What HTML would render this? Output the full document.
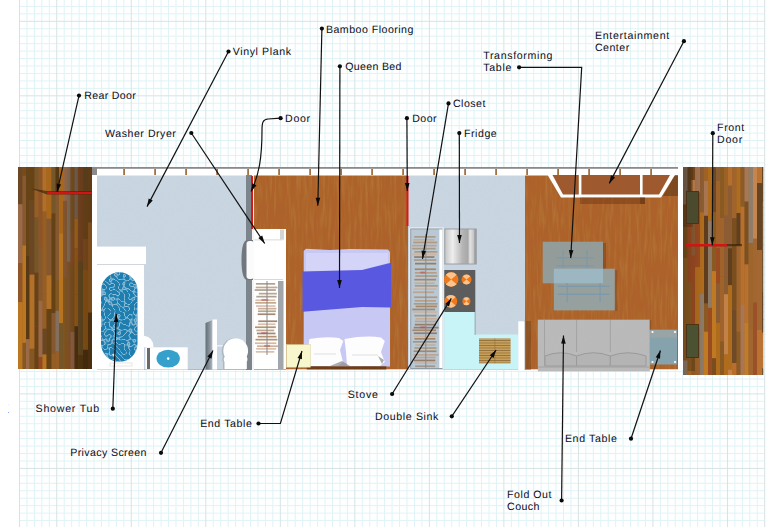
<!DOCTYPE html>
<html><head><meta charset="utf-8"><style>
html,body{margin:0;padding:0;background:#fff;width:779px;height:527px;overflow:hidden}
svg{display:block}
.mi{stroke:#dff3f6;stroke-width:1}
.ma{stroke:#d6e3e4;stroke-width:1}
.ld{stroke:#111;stroke-width:1.2;fill:none}
text{font-family:"Liberation Sans",sans-serif;font-size:10.6px;fill:#0c0c18;text-rendering:geometricPrecision}
</style></head><body>
<svg width="779" height="527" viewBox="0 0 779 527">
<defs>
<filter id="soft" x="0" y="0" width="1" height="1"><feGaussianBlur stdDeviation="0.45"/></filter>
<filter id="noise" x="0" y="0" width="1" height="1"><feTurbulence type="fractalNoise" baseFrequency="0.9" numOctaves="1" seed="3" result="t"/><feColorMatrix in="t" type="matrix" values="0 0 0 0 0.62  0 0 0 0 0.68  0 0 0 0 0.75  1.1 0 0 0 -0.35" result="n"/><feComposite in="n" in2="SourceGraphic" operator="atop"/></filter>
<filter id="noise2" x="0" y="0" width="1" height="1"><feTurbulence type="fractalNoise" baseFrequency="0.9" numOctaves="1" seed="5" result="t"/><feColorMatrix in="t" type="matrix" values="0 0 0 0 0.5  0 0 0 0 0.5  0 0 0 0 0.5  1.0 0 0 0 -0.3" result="n"/><feComposite in="n" in2="SourceGraphic" operator="atop"/></filter>
<filter id="caustic" x="0" y="0" width="1" height="1"><feTurbulence type="turbulence" baseFrequency="0.2" numOctaves="1" seed="9" result="t"/><feComponentTransfer in="t" result="m"><feFuncA type="table" tableValues="1 0.6 0 0 0 0 0 0 0 0 0 0 0 0 0 0"/></feComponentTransfer><feFlood flood-color="#ffffff" result="w"/><feComposite in="w" in2="m" operator="in" result="lines"/><feComposite in="lines" in2="SourceGraphic" operator="in"/></filter>
<linearGradient id="dkL" x1="0" x2="1" y1="0" y2="0"><stop offset="0" stop-color="#000" stop-opacity="0.03"/><stop offset="0.6" stop-color="#000" stop-opacity="0.05"/><stop offset="0.85" stop-color="#1a0c00" stop-opacity="0.35"/><stop offset="1" stop-color="#1a0c00" stop-opacity="0.4"/></linearGradient>
<linearGradient id="dkR" x1="0" x2="1" y1="0" y2="0"><stop offset="0" stop-color="#1a0c00" stop-opacity="0.2"/><stop offset="0.25" stop-color="#000" stop-opacity="0.0"/><stop offset="1" stop-color="#fff" stop-opacity="0.04"/></linearGradient>
<filter id="woodn" x="0" y="0" width="1" height="1"><feTurbulence type="fractalNoise" baseFrequency="0.35 0.035" numOctaves="2" seed="4" result="t"/><feColorMatrix in="t" type="matrix" values="0 0 0 0 0.5  0 0 0 0 0.25  0 0 0 0 0.06  0.9 0 0 0 -0.4" result="n"/><feComposite in="n" in2="SourceGraphic" operator="atop"/></filter>
<linearGradient id="psg" x1="0" x2="1" y1="0" y2="0"><stop offset="0" stop-color="#626c74"/><stop offset="0.6" stop-color="#8a949c"/><stop offset="1" stop-color="#b4bcc4"/></linearGradient>
<clipPath id="tubclip"><rect x="101" y="272.3" width="36.5" height="89.5" rx="18.25" ry="18.25"/></clipPath>
<pattern id="grain" width="5" height="60" patternUnits="userSpaceOnUse">
<rect x="0" width="1.2" height="60" fill="#a86226" opacity="0.35"/>
<rect x="2.6" width="1" height="60" fill="#bc7636" opacity="0.35"/>
</pattern>
<linearGradient id="metal" x1="0" x2="1" y1="0" y2="0">
<stop offset="0" stop-color="#c8c8c8"/><stop offset="0.25" stop-color="#eeeeee"/><stop offset="0.6" stop-color="#b4b4b4"/><stop offset="0.78" stop-color="#a8a8a8"/><stop offset="0.85" stop-color="#e4e4e4"/><stop offset="1" stop-color="#c0c0c0"/>
</linearGradient>
<pattern id="sinkp" width="32" height="2.5" patternUnits="userSpaceOnUse" y="338.4"><rect width="32" height="2.5" fill="#c8a05a"/><rect y="1.7" width="32" height="0.8" fill="#94703a"/></pattern>
</defs>
<rect width="779" height="527" fill="#fff"/>
<g><line x1="26.95" y1="0" x2="26.95" y2="527" class="mi"/>
<line x1="34.40" y1="0" x2="34.40" y2="527" class="mi"/>
<line x1="41.86" y1="0" x2="41.86" y2="527" class="mi"/>
<line x1="49.31" y1="0" x2="49.31" y2="527" class="mi"/>
<line x1="64.21" y1="0" x2="64.21" y2="527" class="mi"/>
<line x1="71.66" y1="0" x2="71.66" y2="527" class="mi"/>
<line x1="79.12" y1="0" x2="79.12" y2="527" class="mi"/>
<line x1="86.57" y1="0" x2="86.57" y2="527" class="mi"/>
<line x1="94.02" y1="0" x2="94.02" y2="527" class="mi"/>
<line x1="101.47" y1="0" x2="101.47" y2="527" class="mi"/>
<line x1="108.92" y1="0" x2="108.92" y2="527" class="mi"/>
<line x1="116.38" y1="0" x2="116.38" y2="527" class="mi"/>
<line x1="123.83" y1="0" x2="123.83" y2="527" class="mi"/>
<line x1="138.73" y1="0" x2="138.73" y2="527" class="mi"/>
<line x1="146.18" y1="0" x2="146.18" y2="527" class="mi"/>
<line x1="153.64" y1="0" x2="153.64" y2="527" class="mi"/>
<line x1="161.09" y1="0" x2="161.09" y2="527" class="mi"/>
<line x1="168.54" y1="0" x2="168.54" y2="527" class="mi"/>
<line x1="175.99" y1="0" x2="175.99" y2="527" class="mi"/>
<line x1="183.44" y1="0" x2="183.44" y2="527" class="mi"/>
<line x1="190.90" y1="0" x2="190.90" y2="527" class="mi"/>
<line x1="198.35" y1="0" x2="198.35" y2="527" class="mi"/>
<line x1="213.25" y1="0" x2="213.25" y2="527" class="mi"/>
<line x1="220.70" y1="0" x2="220.70" y2="527" class="mi"/>
<line x1="228.16" y1="0" x2="228.16" y2="527" class="mi"/>
<line x1="235.61" y1="0" x2="235.61" y2="527" class="mi"/>
<line x1="243.06" y1="0" x2="243.06" y2="527" class="mi"/>
<line x1="250.51" y1="0" x2="250.51" y2="527" class="mi"/>
<line x1="257.96" y1="0" x2="257.96" y2="527" class="mi"/>
<line x1="265.42" y1="0" x2="265.42" y2="527" class="mi"/>
<line x1="272.87" y1="0" x2="272.87" y2="527" class="mi"/>
<line x1="287.77" y1="0" x2="287.77" y2="527" class="mi"/>
<line x1="295.22" y1="0" x2="295.22" y2="527" class="mi"/>
<line x1="302.68" y1="0" x2="302.68" y2="527" class="mi"/>
<line x1="310.13" y1="0" x2="310.13" y2="527" class="mi"/>
<line x1="317.58" y1="0" x2="317.58" y2="527" class="mi"/>
<line x1="325.03" y1="0" x2="325.03" y2="527" class="mi"/>
<line x1="332.48" y1="0" x2="332.48" y2="527" class="mi"/>
<line x1="339.94" y1="0" x2="339.94" y2="527" class="mi"/>
<line x1="347.39" y1="0" x2="347.39" y2="527" class="mi"/>
<line x1="362.29" y1="0" x2="362.29" y2="527" class="mi"/>
<line x1="369.74" y1="0" x2="369.74" y2="527" class="mi"/>
<line x1="377.20" y1="0" x2="377.20" y2="527" class="mi"/>
<line x1="384.65" y1="0" x2="384.65" y2="527" class="mi"/>
<line x1="392.10" y1="0" x2="392.10" y2="527" class="mi"/>
<line x1="399.55" y1="0" x2="399.55" y2="527" class="mi"/>
<line x1="407.00" y1="0" x2="407.00" y2="527" class="mi"/>
<line x1="414.46" y1="0" x2="414.46" y2="527" class="mi"/>
<line x1="421.91" y1="0" x2="421.91" y2="527" class="mi"/>
<line x1="436.81" y1="0" x2="436.81" y2="527" class="mi"/>
<line x1="444.26" y1="0" x2="444.26" y2="527" class="mi"/>
<line x1="451.72" y1="0" x2="451.72" y2="527" class="mi"/>
<line x1="459.17" y1="0" x2="459.17" y2="527" class="mi"/>
<line x1="466.62" y1="0" x2="466.62" y2="527" class="mi"/>
<line x1="474.07" y1="0" x2="474.07" y2="527" class="mi"/>
<line x1="481.52" y1="0" x2="481.52" y2="527" class="mi"/>
<line x1="488.98" y1="0" x2="488.98" y2="527" class="mi"/>
<line x1="496.43" y1="0" x2="496.43" y2="527" class="mi"/>
<line x1="511.33" y1="0" x2="511.33" y2="527" class="mi"/>
<line x1="518.78" y1="0" x2="518.78" y2="527" class="mi"/>
<line x1="526.24" y1="0" x2="526.24" y2="527" class="mi"/>
<line x1="533.69" y1="0" x2="533.69" y2="527" class="mi"/>
<line x1="541.14" y1="0" x2="541.14" y2="527" class="mi"/>
<line x1="548.59" y1="0" x2="548.59" y2="527" class="mi"/>
<line x1="556.04" y1="0" x2="556.04" y2="527" class="mi"/>
<line x1="563.50" y1="0" x2="563.50" y2="527" class="mi"/>
<line x1="570.95" y1="0" x2="570.95" y2="527" class="mi"/>
<line x1="585.85" y1="0" x2="585.85" y2="527" class="mi"/>
<line x1="593.30" y1="0" x2="593.30" y2="527" class="mi"/>
<line x1="600.76" y1="0" x2="600.76" y2="527" class="mi"/>
<line x1="608.21" y1="0" x2="608.21" y2="527" class="mi"/>
<line x1="615.66" y1="0" x2="615.66" y2="527" class="mi"/>
<line x1="623.11" y1="0" x2="623.11" y2="527" class="mi"/>
<line x1="630.56" y1="0" x2="630.56" y2="527" class="mi"/>
<line x1="638.02" y1="0" x2="638.02" y2="527" class="mi"/>
<line x1="645.47" y1="0" x2="645.47" y2="527" class="mi"/>
<line x1="660.37" y1="0" x2="660.37" y2="527" class="mi"/>
<line x1="667.82" y1="0" x2="667.82" y2="527" class="mi"/>
<line x1="675.28" y1="0" x2="675.28" y2="527" class="mi"/>
<line x1="682.73" y1="0" x2="682.73" y2="527" class="mi"/>
<line x1="690.18" y1="0" x2="690.18" y2="527" class="mi"/>
<line x1="697.63" y1="0" x2="697.63" y2="527" class="mi"/>
<line x1="705.08" y1="0" x2="705.08" y2="527" class="mi"/>
<line x1="712.54" y1="0" x2="712.54" y2="527" class="mi"/>
<line x1="719.99" y1="0" x2="719.99" y2="527" class="mi"/>
<line x1="734.89" y1="0" x2="734.89" y2="527" class="mi"/>
<line x1="742.34" y1="0" x2="742.34" y2="527" class="mi"/>
<line x1="749.80" y1="0" x2="749.80" y2="527" class="mi"/>
<line x1="757.25" y1="0" x2="757.25" y2="527" class="mi"/>
<line x1="19.5" y1="6.40" x2="764.7" y2="6.40" class="mi"/>
<line x1="19.5" y1="13.85" x2="764.7" y2="13.85" class="mi"/>
<line x1="19.5" y1="28.75" x2="764.7" y2="28.75" class="mi"/>
<line x1="19.5" y1="36.20" x2="764.7" y2="36.20" class="mi"/>
<line x1="19.5" y1="43.66" x2="764.7" y2="43.66" class="mi"/>
<line x1="19.5" y1="51.11" x2="764.7" y2="51.11" class="mi"/>
<line x1="19.5" y1="58.56" x2="764.7" y2="58.56" class="mi"/>
<line x1="19.5" y1="66.01" x2="764.7" y2="66.01" class="mi"/>
<line x1="19.5" y1="73.46" x2="764.7" y2="73.46" class="mi"/>
<line x1="19.5" y1="80.92" x2="764.7" y2="80.92" class="mi"/>
<line x1="19.5" y1="88.37" x2="764.7" y2="88.37" class="mi"/>
<line x1="19.5" y1="103.27" x2="764.7" y2="103.27" class="mi"/>
<line x1="19.5" y1="110.72" x2="764.7" y2="110.72" class="mi"/>
<line x1="19.5" y1="118.18" x2="764.7" y2="118.18" class="mi"/>
<line x1="19.5" y1="125.63" x2="764.7" y2="125.63" class="mi"/>
<line x1="19.5" y1="133.08" x2="764.7" y2="133.08" class="mi"/>
<line x1="19.5" y1="140.53" x2="764.7" y2="140.53" class="mi"/>
<line x1="19.5" y1="147.98" x2="764.7" y2="147.98" class="mi"/>
<line x1="19.5" y1="155.44" x2="764.7" y2="155.44" class="mi"/>
<line x1="19.5" y1="162.89" x2="764.7" y2="162.89" class="mi"/>
<line x1="19.5" y1="177.79" x2="764.7" y2="177.79" class="mi"/>
<line x1="19.5" y1="185.24" x2="764.7" y2="185.24" class="mi"/>
<line x1="19.5" y1="192.70" x2="764.7" y2="192.70" class="mi"/>
<line x1="19.5" y1="200.15" x2="764.7" y2="200.15" class="mi"/>
<line x1="19.5" y1="207.60" x2="764.7" y2="207.60" class="mi"/>
<line x1="19.5" y1="215.05" x2="764.7" y2="215.05" class="mi"/>
<line x1="19.5" y1="222.50" x2="764.7" y2="222.50" class="mi"/>
<line x1="19.5" y1="229.96" x2="764.7" y2="229.96" class="mi"/>
<line x1="19.5" y1="237.41" x2="764.7" y2="237.41" class="mi"/>
<line x1="19.5" y1="252.31" x2="764.7" y2="252.31" class="mi"/>
<line x1="19.5" y1="259.76" x2="764.7" y2="259.76" class="mi"/>
<line x1="19.5" y1="267.22" x2="764.7" y2="267.22" class="mi"/>
<line x1="19.5" y1="274.67" x2="764.7" y2="274.67" class="mi"/>
<line x1="19.5" y1="282.12" x2="764.7" y2="282.12" class="mi"/>
<line x1="19.5" y1="289.57" x2="764.7" y2="289.57" class="mi"/>
<line x1="19.5" y1="297.02" x2="764.7" y2="297.02" class="mi"/>
<line x1="19.5" y1="304.48" x2="764.7" y2="304.48" class="mi"/>
<line x1="19.5" y1="311.93" x2="764.7" y2="311.93" class="mi"/>
<line x1="19.5" y1="326.83" x2="764.7" y2="326.83" class="mi"/>
<line x1="19.5" y1="334.28" x2="764.7" y2="334.28" class="mi"/>
<line x1="19.5" y1="341.74" x2="764.7" y2="341.74" class="mi"/>
<line x1="19.5" y1="349.19" x2="764.7" y2="349.19" class="mi"/>
<line x1="19.5" y1="356.64" x2="764.7" y2="356.64" class="mi"/>
<line x1="19.5" y1="364.09" x2="764.7" y2="364.09" class="mi"/>
<line x1="19.5" y1="371.54" x2="764.7" y2="371.54" class="mi"/>
<line x1="19.5" y1="379.00" x2="764.7" y2="379.00" class="mi"/>
<line x1="19.5" y1="386.45" x2="764.7" y2="386.45" class="mi"/>
<line x1="19.5" y1="401.35" x2="764.7" y2="401.35" class="mi"/>
<line x1="19.5" y1="408.80" x2="764.7" y2="408.80" class="mi"/>
<line x1="19.5" y1="416.26" x2="764.7" y2="416.26" class="mi"/>
<line x1="19.5" y1="423.71" x2="764.7" y2="423.71" class="mi"/>
<line x1="19.5" y1="431.16" x2="764.7" y2="431.16" class="mi"/>
<line x1="19.5" y1="438.61" x2="764.7" y2="438.61" class="mi"/>
<line x1="19.5" y1="446.06" x2="764.7" y2="446.06" class="mi"/>
<line x1="19.5" y1="453.52" x2="764.7" y2="453.52" class="mi"/>
<line x1="19.5" y1="460.97" x2="764.7" y2="460.97" class="mi"/>
<line x1="19.5" y1="475.87" x2="764.7" y2="475.87" class="mi"/>
<line x1="19.5" y1="483.32" x2="764.7" y2="483.32" class="mi"/>
<line x1="19.5" y1="490.78" x2="764.7" y2="490.78" class="mi"/>
<line x1="19.5" y1="498.23" x2="764.7" y2="498.23" class="mi"/>
<line x1="19.5" y1="505.68" x2="764.7" y2="505.68" class="mi"/>
<line x1="19.5" y1="513.13" x2="764.7" y2="513.13" class="mi"/>
<line x1="19.5" y1="520.58" x2="764.7" y2="520.58" class="mi"/>
<line x1="19.50" y1="0" x2="19.50" y2="527" class="ma"/>
<line x1="56.76" y1="0" x2="56.76" y2="527" class="ma"/>
<line x1="131.28" y1="0" x2="131.28" y2="527" class="ma"/>
<line x1="205.80" y1="0" x2="205.80" y2="527" class="ma"/>
<line x1="280.32" y1="0" x2="280.32" y2="527" class="ma"/>
<line x1="354.84" y1="0" x2="354.84" y2="527" class="ma"/>
<line x1="429.36" y1="0" x2="429.36" y2="527" class="ma"/>
<line x1="503.88" y1="0" x2="503.88" y2="527" class="ma"/>
<line x1="578.40" y1="0" x2="578.40" y2="527" class="ma"/>
<line x1="652.92" y1="0" x2="652.92" y2="527" class="ma"/>
<line x1="727.44" y1="0" x2="727.44" y2="527" class="ma"/>
<line x1="764.70" y1="0" x2="764.70" y2="527" class="ma"/>
<line x1="19.5" y1="21.30" x2="764.7" y2="21.30" class="ma"/>
<line x1="19.5" y1="95.82" x2="764.7" y2="95.82" class="ma"/>
<line x1="19.5" y1="170.34" x2="764.7" y2="170.34" class="ma"/>
<line x1="19.5" y1="244.86" x2="764.7" y2="244.86" class="ma"/>
<line x1="19.5" y1="319.38" x2="764.7" y2="319.38" class="ma"/>
<line x1="19.5" y1="393.90" x2="764.7" y2="393.90" class="ma"/>
<line x1="19.5" y1="468.42" x2="764.7" y2="468.42" class="ma"/></g>
<rect x="8" y="404" width="1" height="1" fill="#e4eeff"/><rect x="8" y="412" width="1" height="1" fill="#7eacf6"/>
<rect x="92" y="167" width="591" height="203" fill="#fff"/>
<g filter="url(#soft)"><rect x="18" y="167" width="74" height="202" fill="#8a5a2a"/><rect x="18.0" y="167.0" width="4.8" height="37.3" fill="#6e4a26"/>
<rect x="18.0" y="204.3" width="4.8" height="58.9" fill="#a06e4c"/>
<rect x="18.0" y="263.2" width="4.8" height="38.8" fill="#94582a"/>
<rect x="18.0" y="302.1" width="4.8" height="66.9" fill="#c07a24"/>
<rect x="22.5" y="167.0" width="3.8" height="8.8" fill="#7a4e1e"/>
<rect x="22.5" y="175.8" width="3.8" height="69.7" fill="#8c5c30"/>
<rect x="22.5" y="245.5" width="3.8" height="97.4" fill="#c07a24"/>
<rect x="22.5" y="342.9" width="3.8" height="26.1" fill="#8a5a22"/>
<rect x="26.0" y="167.0" width="3.8" height="88.8" fill="#6a4418"/>
<rect x="26.0" y="255.8" width="3.8" height="83.4" fill="#5a3a18"/>
<rect x="26.0" y="339.2" width="3.8" height="29.8" fill="#a06e4c"/>
<rect x="29.5" y="167.0" width="5.3" height="33.0" fill="#6a4418"/>
<rect x="29.5" y="200.0" width="5.3" height="74.7" fill="#6e4a26"/>
<rect x="29.5" y="274.7" width="5.3" height="74.1" fill="#b8742a"/>
<rect x="29.5" y="348.8" width="5.3" height="20.2" fill="#8a5a22"/>
<rect x="34.5" y="167.0" width="4.3" height="23.3" fill="#7a5a2a"/>
<rect x="34.5" y="190.3" width="4.3" height="27.2" fill="#9c6226"/>
<rect x="34.5" y="217.5" width="4.3" height="55.0" fill="#7a5a2a"/>
<rect x="34.5" y="272.6" width="4.3" height="54.0" fill="#6a4418"/>
<rect x="34.5" y="326.6" width="4.3" height="42.4" fill="#6a4418"/>
<rect x="38.5" y="167.0" width="4.3" height="80.7" fill="#94582a"/>
<rect x="38.5" y="247.7" width="4.3" height="53.2" fill="#8c5c30"/>
<rect x="38.5" y="300.8" width="4.3" height="56.5" fill="#a06e4c"/>
<rect x="38.5" y="357.3" width="4.3" height="11.7" fill="#9a4c22"/>
<rect x="42.5" y="167.0" width="4.3" height="44.7" fill="#b8742a"/>
<rect x="42.5" y="211.7" width="4.3" height="81.9" fill="#9c6226"/>
<rect x="42.5" y="293.6" width="4.3" height="35.1" fill="#9c6226"/>
<rect x="42.5" y="328.7" width="4.3" height="25.8" fill="#6e4a26"/>
<rect x="42.5" y="354.5" width="4.3" height="14.5" fill="#c07a24"/>
<rect x="46.5" y="167.0" width="5.3" height="51.9" fill="#b06c1c"/>
<rect x="46.5" y="218.9" width="5.3" height="56.4" fill="#8c5c30"/>
<rect x="46.5" y="275.3" width="5.3" height="33.7" fill="#b8742a"/>
<rect x="46.5" y="309.0" width="5.3" height="60.0" fill="#6a4418"/>
<rect x="51.5" y="167.0" width="4.3" height="46.3" fill="#7a5a2a"/>
<rect x="51.5" y="213.3" width="4.3" height="99.8" fill="#6a4418"/>
<rect x="51.5" y="313.1" width="4.3" height="40.8" fill="#8c5c30"/>
<rect x="51.5" y="353.9" width="4.3" height="15.1" fill="#9c6226"/>
<rect x="55.5" y="167.0" width="3.8" height="26.0" fill="#5a3a18"/>
<rect x="55.5" y="193.0" width="3.8" height="87.3" fill="#8c5c30"/>
<rect x="55.5" y="280.3" width="3.8" height="30.5" fill="#8a5a22"/>
<rect x="55.5" y="310.8" width="3.8" height="40.7" fill="#8a7462"/>
<rect x="55.5" y="351.4" width="3.8" height="17.6" fill="#a0642a"/>
<rect x="59.0" y="167.0" width="4.3" height="66.3" fill="#b06c1c"/>
<rect x="59.0" y="233.3" width="4.3" height="90.0" fill="#c07a24"/>
<rect x="59.0" y="323.2" width="4.3" height="45.8" fill="#7a5a2a"/>
<rect x="63.0" y="167.0" width="4.3" height="33.9" fill="#a06e4c"/>
<rect x="63.0" y="200.9" width="4.3" height="76.5" fill="#8c5c30"/>
<rect x="63.0" y="277.4" width="4.3" height="91.2" fill="#8a5a22"/>
<rect x="63.0" y="368.6" width="4.3" height="0.4" fill="#9c6226"/>
<rect x="67.0" y="167.0" width="3.8" height="94.9" fill="#8a7462"/>
<rect x="67.0" y="261.9" width="3.8" height="80.5" fill="#8c5c30"/>
<rect x="67.0" y="342.4" width="3.8" height="26.6" fill="#94582a"/>
<rect x="70.5" y="167.0" width="4.3" height="63.5" fill="#8a5a22"/>
<rect x="70.5" y="230.5" width="4.3" height="34.5" fill="#94582a"/>
<rect x="70.5" y="265.0" width="4.3" height="67.0" fill="#8a5a22"/>
<rect x="70.5" y="331.9" width="4.3" height="37.1" fill="#a06e4c"/>
<rect x="74.5" y="167.0" width="3.8" height="51.7" fill="#8a7462"/>
<rect x="74.5" y="218.7" width="3.8" height="29.5" fill="#c07a24"/>
<rect x="74.5" y="248.2" width="3.8" height="46.1" fill="#b06c1c"/>
<rect x="74.5" y="294.4" width="3.8" height="31.9" fill="#b06c1c"/>
<rect x="74.5" y="326.3" width="3.8" height="42.7" fill="#5a3a18"/>
<rect x="78.0" y="167.0" width="5.3" height="0.5" fill="#7a4e1e"/>
<rect x="78.0" y="167.5" width="5.3" height="94.3" fill="#94582a"/>
<rect x="78.0" y="261.7" width="5.3" height="93.3" fill="#7a5a2a"/>
<rect x="78.0" y="355.0" width="5.3" height="14.0" fill="#6a4418"/>
<rect x="83.0" y="167.0" width="5.3" height="23.0" fill="#7a5a2a"/>
<rect x="83.0" y="190.0" width="5.3" height="48.9" fill="#8a5a22"/>
<rect x="83.0" y="238.9" width="5.3" height="30.6" fill="#a0642a"/>
<rect x="83.0" y="269.6" width="5.3" height="80.3" fill="#b06c1c"/>
<rect x="83.0" y="349.8" width="5.3" height="19.2" fill="#5a3a18"/>
<rect x="88.0" y="167.0" width="4.3" height="55.4" fill="#8a5a22"/>
<rect x="88.0" y="222.4" width="4.3" height="90.3" fill="#b8742a"/>
<rect x="88.0" y="312.7" width="4.3" height="56.3" fill="#6a4418"/></g>
<g filter="url(#soft)"><rect x="683" y="167" width="80" height="208" fill="#8a5a2a"/><rect x="683.0" y="167.0" width="4.8" height="37.5" fill="#8e7a66"/>
<rect x="683.0" y="204.5" width="4.8" height="53.4" fill="#7a4e1e"/>
<rect x="683.0" y="257.9" width="4.8" height="70.7" fill="#8a5a22"/>
<rect x="683.0" y="328.6" width="4.8" height="31.8" fill="#8a5a22"/>
<rect x="683.0" y="360.4" width="4.8" height="14.6" fill="#8e7a66"/>
<rect x="687.5" y="167.0" width="4.3" height="56.8" fill="#6e4a26"/>
<rect x="687.5" y="223.8" width="4.3" height="59.3" fill="#9a4c22"/>
<rect x="687.5" y="283.2" width="4.3" height="87.9" fill="#8a5a22"/>
<rect x="687.5" y="371.0" width="4.3" height="4.0" fill="#b86e2a"/>
<rect x="691.5" y="167.0" width="3.8" height="13.0" fill="#7a4e1e"/>
<rect x="691.5" y="180.0" width="3.8" height="42.3" fill="#c4824a"/>
<rect x="691.5" y="222.2" width="3.8" height="33.5" fill="#8c5c30"/>
<rect x="691.5" y="255.7" width="3.8" height="71.1" fill="#9a4c22"/>
<rect x="691.5" y="326.8" width="3.8" height="44.2" fill="#7a4e1e"/>
<rect x="691.5" y="371.0" width="3.8" height="4.0" fill="#9c6226"/>
<rect x="695.0" y="167.0" width="5.3" height="25.6" fill="#a87452"/>
<rect x="695.0" y="192.6" width="5.3" height="74.5" fill="#9a4c22"/>
<rect x="695.0" y="267.1" width="5.3" height="62.4" fill="#b06c1c"/>
<rect x="695.0" y="329.4" width="5.3" height="45.6" fill="#a0642a"/>
<rect x="700.0" y="167.0" width="4.3" height="45.4" fill="#8c5c30"/>
<rect x="700.0" y="212.4" width="4.3" height="81.6" fill="#b06c1c"/>
<rect x="700.0" y="294.0" width="4.3" height="81.0" fill="#8e7a66"/>
<rect x="704.0" y="167.0" width="4.3" height="13.8" fill="#9c6226"/>
<rect x="704.0" y="180.8" width="4.3" height="35.1" fill="#a87452"/>
<rect x="704.0" y="215.8" width="4.3" height="87.8" fill="#5e3e1e"/>
<rect x="704.0" y="303.6" width="4.3" height="28.0" fill="#8a5a22"/>
<rect x="704.0" y="331.7" width="4.3" height="43.3" fill="#c07a24"/>
<rect x="708.0" y="167.0" width="4.3" height="53.6" fill="#b06c1c"/>
<rect x="708.0" y="220.6" width="4.3" height="87.3" fill="#8e7a66"/>
<rect x="708.0" y="307.9" width="4.3" height="67.1" fill="#9a4c22"/>
<rect x="712.0" y="167.0" width="4.3" height="45.2" fill="#6e4a26"/>
<rect x="712.0" y="212.2" width="4.3" height="58.9" fill="#8a5a22"/>
<rect x="712.0" y="271.1" width="4.3" height="87.2" fill="#c07a24"/>
<rect x="712.0" y="358.3" width="4.3" height="16.7" fill="#7a4e1e"/>
<rect x="716.0" y="167.0" width="4.3" height="13.9" fill="#8c5c30"/>
<rect x="716.0" y="180.9" width="4.3" height="67.3" fill="#a0642a"/>
<rect x="716.0" y="248.2" width="4.3" height="35.2" fill="#9a4c22"/>
<rect x="716.0" y="283.4" width="4.3" height="39.2" fill="#8c5c30"/>
<rect x="716.0" y="322.7" width="4.3" height="52.3" fill="#b06c1c"/>
<rect x="720.0" y="167.0" width="4.3" height="51.0" fill="#8a5a22"/>
<rect x="720.0" y="218.0" width="4.3" height="58.5" fill="#a0642a"/>
<rect x="720.0" y="276.5" width="4.3" height="65.2" fill="#a0642a"/>
<rect x="720.0" y="341.6" width="4.3" height="33.4" fill="#8a5a22"/>
<rect x="724.0" y="167.0" width="4.3" height="48.7" fill="#9c6226"/>
<rect x="724.0" y="215.7" width="4.3" height="78.6" fill="#8c5c30"/>
<rect x="724.0" y="294.2" width="4.3" height="60.4" fill="#c4824a"/>
<rect x="724.0" y="354.7" width="4.3" height="20.3" fill="#b06c1c"/>
<rect x="728.0" y="167.0" width="4.3" height="18.8" fill="#b86e2a"/>
<rect x="728.0" y="185.8" width="4.3" height="62.5" fill="#8c5c30"/>
<rect x="728.0" y="248.3" width="4.3" height="36.9" fill="#5e3e1e"/>
<rect x="728.0" y="285.2" width="4.3" height="84.4" fill="#b06c1c"/>
<rect x="728.0" y="369.6" width="4.3" height="5.4" fill="#c4824a"/>
<rect x="732.0" y="167.0" width="4.8" height="51.2" fill="#a0642a"/>
<rect x="732.0" y="218.2" width="4.8" height="91.5" fill="#7a4e1e"/>
<rect x="732.0" y="309.8" width="4.8" height="53.3" fill="#6e4a26"/>
<rect x="732.0" y="363.0" width="4.8" height="12.0" fill="#b86e2a"/>
<rect x="736.5" y="167.0" width="4.3" height="46.0" fill="#b06c1c"/>
<rect x="736.5" y="213.0" width="4.3" height="32.4" fill="#5e3e1e"/>
<rect x="736.5" y="245.4" width="4.3" height="86.4" fill="#a0642a"/>
<rect x="736.5" y="331.8" width="4.3" height="43.2" fill="#8a5a22"/>
<rect x="740.5" y="167.0" width="4.3" height="39.7" fill="#8a5a22"/>
<rect x="740.5" y="206.7" width="4.3" height="98.3" fill="#b86e2a"/>
<rect x="740.5" y="305.0" width="4.3" height="70.0" fill="#a87452"/>
<rect x="744.5" y="167.0" width="4.3" height="34.6" fill="#a87452"/>
<rect x="744.5" y="201.6" width="4.3" height="62.9" fill="#7a4e1e"/>
<rect x="744.5" y="264.4" width="4.3" height="58.1" fill="#b86e2a"/>
<rect x="744.5" y="322.5" width="4.3" height="52.5" fill="#c07a24"/>
<rect x="748.5" y="167.0" width="4.8" height="76.3" fill="#8e7a66"/>
<rect x="748.5" y="243.3" width="4.8" height="85.0" fill="#9c6226"/>
<rect x="748.5" y="328.2" width="4.8" height="46.8" fill="#a0642a"/>
<rect x="753.0" y="167.0" width="4.3" height="71.8" fill="#c4824a"/>
<rect x="753.0" y="238.8" width="4.3" height="63.9" fill="#a0642a"/>
<rect x="753.0" y="302.6" width="4.3" height="72.4" fill="#9a4c22"/>
<rect x="757.0" y="167.0" width="5.3" height="16.1" fill="#b86e2a"/>
<rect x="757.0" y="183.1" width="5.3" height="66.9" fill="#5e3e1e"/>
<rect x="757.0" y="250.0" width="5.3" height="79.7" fill="#a0642a"/>
<rect x="757.0" y="329.7" width="5.3" height="37.3" fill="#b86e2a"/>
<rect x="757.0" y="367.0" width="5.3" height="8.0" fill="#b86e2a"/>
<rect x="762.0" y="167.0" width="1.3" height="34.9" fill="#5e3e1e"/>
<rect x="762.0" y="201.9" width="1.3" height="90.3" fill="#6e4a26"/>
<rect x="762.0" y="292.1" width="1.3" height="40.6" fill="#5e3e1e"/>
<rect x="762.0" y="332.8" width="1.3" height="35.6" fill="#b86e2a"/>
<rect x="762.0" y="368.3" width="1.3" height="6.7" fill="#6e4a26"/></g>
<rect x="18" y="167" width="74" height="202" fill="url(#dkL)"/>
<rect x="683" y="167" width="80" height="208" fill="url(#dkR)"/>
<rect x="683" y="167" width="10" height="60" fill="#2a1808" opacity="0.25"/>
<rect x="92" y="167" width="587" height="1.8" fill="#8a8a8a"/>
<rect x="92" y="167" width="5" height="8" fill="#8a8a8a"/>
<rect x="123.2" y="169" width="1.8" height="6" fill="#a4703f"/>
<rect x="154.2" y="169" width="1.8" height="6" fill="#a4703f"/>
<rect x="185.2" y="169" width="1.8" height="6" fill="#a4703f"/>
<rect x="216.2" y="169" width="1.8" height="6" fill="#a4703f"/>
<rect x="247.2" y="169" width="1.8" height="6" fill="#a4703f"/>
<rect x="278.2" y="169" width="1.8" height="6" fill="#a4703f"/>
<rect x="309.2" y="169" width="1.8" height="6" fill="#a4703f"/>
<rect x="340.2" y="169" width="1.8" height="6" fill="#a4703f"/>
<rect x="371.2" y="169" width="1.8" height="6" fill="#a4703f"/>
<rect x="402.2" y="169" width="1.8" height="6" fill="#a4703f"/>
<rect x="433.2" y="169" width="1.8" height="6" fill="#a4703f"/>
<rect x="464.2" y="169" width="1.8" height="6" fill="#a4703f"/>
<rect x="495.2" y="169" width="1.8" height="6" fill="#a4703f"/>
<rect x="526.2" y="169" width="1.8" height="6" fill="#a4703f"/>
<rect x="557.2" y="169" width="1.8" height="6" fill="#a4703f"/>
<rect x="588.2" y="169" width="1.8" height="6" fill="#a4703f"/>
<rect x="619.2" y="169" width="1.8" height="6" fill="#a4703f"/>
<rect x="650.2" y="169" width="1.8" height="6" fill="#a4703f"/>
<rect x="97" y="175.5" width="149" height="194.5" fill="#c7d5e1" filter="url(#noise)"/>
<rect x="254" y="175.5" width="154" height="193.8" fill="#ac6229" filter="url(#woodn)"/>
<rect x="408" y="175.5" width="117" height="194.5" fill="#c7d5e1" filter="url(#noise)"/>
<rect x="525" y="175.5" width="153" height="193.8" fill="#ac6229" filter="url(#woodn)"/>
<rect x="97" y="369" width="149" height="1" fill="#a0a0a0" opacity="0.5"/>
<rect x="246" y="175" width="6" height="195" fill="#7c848c"/>
<rect x="252" y="175" width="2" height="195" fill="#f4f4f4"/>
<rect x="251" y="176" width="2" height="53" fill="#d81818"/>
<rect x="406.5" y="176" width="2" height="50" fill="#d81818"/>
<path d="M31,188.5 L47,191 L92,191 L92,194.5 L47,194.5 Z" fill="#2a1a0a" opacity="0.6"/>
<rect x="47" y="191.8" width="45" height="2.4" fill="#d41414"/>
<rect x="686" y="244" width="56" height="2.2" fill="#2a1a0a" opacity="0.6"/>
<rect x="686" y="244" width="41" height="2.4" fill="#d41414"/>
<rect x="686.5" y="191.5" width="12" height="32" fill="#4c4a2e" stroke="#4a3014" stroke-width="0.9"/>
<rect x="686.5" y="324.5" width="12" height="33" fill="#4a5232" stroke="#4a3014" stroke-width="0.9"/>
<rect x="678" y="167" width="5" height="203" fill="#fff"/>
<rect x="92" y="175" width="5" height="195" fill="#fff"/>
<rect x="97" y="246.6" width="49" height="18" fill="#fff"/>
<rect x="97" y="264" width="49" height="0.8" fill="#c8d0d8"/>
<rect x="97" y="265" width="47" height="104.5" fill="#fff"/>
<rect x="101" y="272.3" width="36.5" height="89.5" rx="18.25" ry="18.25" fill="#1e7eb0"/>
<rect x="101" y="272.3" width="36.5" height="89.5" rx="18.25" ry="18.25" fill="#fff" filter="url(#caustic)" opacity="0.5"/>
<circle cx="114" cy="355" r="1.6" fill="#e8e0d8"/>
<rect x="110" y="363" width="22" height="3" fill="#fff" stroke="#ccc" stroke-width="0.5"/>
<path d="M144,335.7 Q153.5,337 153.5,347.3 L144,347.3 Z" fill="#fff"/>
<rect x="145.4" y="347.3" width="42.3" height="22.2" fill="#fff"/>
<rect x="147" y="348" width="3" height="21" fill="#6a6a6a"/>
<ellipse cx="168.2" cy="358.6" rx="11.7" ry="8.9" fill="#36a0cc"/>
<circle cx="168.2" cy="358.6" r="1.3" fill="#fff"/>
<path d="M205.5,323 L212.5,320 L212.5,369.5 L205.5,369.5 Z" fill="url(#psg)"/>
<rect x="212.5" y="319.5" width="4.5" height="50" fill="#fff"/>
<rect x="217" y="345.2" width="6" height="1.2" fill="#f4f6f8"/>
<circle cx="234.5" cy="351" r="12.8" fill="#9aa4ac" opacity="0.6"/>
<path d="M223,369 L223,362 Q221,358 224,356 L246,356 Q248,358 246.5,362 L246.5,369 Z" fill="#9aa4ac" opacity="0.6"/>
<circle cx="235.7" cy="350.7" r="12.4" fill="#fff"/>
<path d="M224.5,369 L224.5,362 Q222.5,358 225.5,356 L246,356 Q248.5,358 246.8,362 L246.8,369 Z" fill="#fff"/>
<rect x="254" y="229" width="32" height="140.3" fill="#fff"/>
<rect x="280" y="229.5" width="4" height="10" fill="#d4d4d4"/>
<rect x="254" y="239.5" width="29" height="0.8" fill="#cfcfcf"/>
<path d="M253,240 L247,240 Q241.5,241 241.5,260 Q241.5,279 247,280 L253,280 Z" fill="#70777d"/>
<rect x="246.5" y="241" width="7.5" height="38" fill="#fbfbfb" rx="3"/>
<rect x="254" y="279" width="29" height="0.8" fill="#cfcfcf"/>
<rect x="255.9" y="283.0" width="19.3" height="1.7" fill="#9a8a7a" opacity="0.8"/>
<rect x="255.7" y="286.6" width="21.8" height="1.7" fill="#b89470" opacity="0.8"/>
<rect x="254.7" y="289.2" width="21.2" height="1.7" fill="#9a8a7a" opacity="0.8"/>
<rect x="258.8" y="292.8" width="18.0" height="1.7" fill="#a89070" opacity="0.8"/>
<rect x="256.3" y="295.8" width="20.3" height="1.7" fill="#9a8a7a" opacity="0.8"/>
<rect x="255.4" y="299.4" width="19.9" height="1.7" fill="#d0b098" opacity="0.8"/>
<rect x="261.5" y="298.9" width="6.8" height="2" fill="#c04848" opacity="0.55"/>
<rect x="255.2" y="302.0" width="20.9" height="1.7" fill="#b89470" opacity="0.8"/>
<rect x="256.0" y="305.2" width="19.5" height="1.7" fill="#d0b098" opacity="0.8"/>
<rect x="257.9" y="307.8" width="18.5" height="1.7" fill="#c09a80" opacity="0.8"/>
<rect x="258.0" y="310.4" width="17.9" height="1.7" fill="#a89070" opacity="0.8"/>
<rect x="257.7" y="313.4" width="17.7" height="1.7" fill="#8a6a50" opacity="0.8"/>
<rect x="258.3" y="320.4" width="18.9" height="1.7" fill="#8a6a50" opacity="0.8"/>
<rect x="258.0" y="323.4" width="17.5" height="1.7" fill="#d0b098" opacity="0.8"/>
<rect x="255.0" y="326.4" width="20.8" height="1.7" fill="#a07850" opacity="0.8"/>
<rect x="256.4" y="329.6" width="17.8" height="1.7" fill="#a89070" opacity="0.8"/>
<rect x="256.9" y="332.6" width="18.6" height="1.7" fill="#8a6a50" opacity="0.8"/>
<rect x="261.3" y="332.1" width="6.7" height="2" fill="#c04848" opacity="0.55"/>
<rect x="257.7" y="335.8" width="18.8" height="1.7" fill="#a07850" opacity="0.8"/>
<rect x="255.5" y="338.8" width="21.9" height="1.7" fill="#a07850" opacity="0.8"/>
<rect x="254.9" y="342.4" width="21.4" height="1.7" fill="#c8a888" opacity="0.8"/>
<rect x="257.0" y="345.4" width="21.5" height="1.7" fill="#c09a80" opacity="0.8"/>
<rect x="264.3" y="344.9" width="5.8" height="2" fill="#c04848" opacity="0.55"/>
<rect x="256.2" y="348.0" width="19.9" height="1.7" fill="#d0b098" opacity="0.8"/>
<rect x="255.8" y="351.0" width="18.5" height="1.7" fill="#d0b098" opacity="0.8"/>
<rect x="266.5" y="281" width="1" height="74" fill="#8a8a8a"/>
<rect x="278" y="281" width="5.5" height="88" fill="#a0a6aa"/>
<rect x="254" y="369" width="32" height="1" fill="#b0b0b0"/>
<path d="M303.7,251 L306,248.8 L330,250 L350,249 L388,249.5 L390,252 L390,366.5 L303.7,366.5 Z" fill="#c8c8f4"/>
<path d="M306,253 L388,253 L388,262.7 L362,270 L306,271 Z" fill="#d4d4f8"/>
<path d="M302.5,271.4 L362,270 L391,262.7 L391,307.4 L362,307 L302.5,311.7 Z" fill="#5858e0"/>
<rect x="306.8" y="366.3" width="79.5" height="3.2" fill="#5a3010" opacity="0.75"/>
<path d="M309.3,339 Q326,336 339,338 L343.3,341 L340,350 L343,362 L338,365.9 L309.3,365.9 L308,352 Z" fill="#fdfdfd"/>
<path d="M344.5,339 Q366,335 381,337.5 L384.8,341 L381,352 L384.8,362 L380,365.9 L347,365.9 L346,352 Z" fill="#fdfdfd"/>
<path d="M330,366 L342,361 L350,366 Z M378,356 L384,360 L382,364 Z" fill="#8a8a8a" opacity="0.7"/>
<path d="M314,354 L336,354 M352,355 L378,355" stroke="#d0d0d0" stroke-width="0.7"/>
<rect x="286.4" y="344.6" width="24" height="22.6" fill="#f8f6cc" stroke="#d8d0a0" stroke-width="0.5"/>
<rect x="409.5" y="227.6" width="34" height="141.6" fill="#fff"/>
<rect x="410.2" y="228.4" width="32.4" height="140.6" fill="#8e9aa4"/>
<rect x="411.2" y="229.4" width="28" height="138.6" fill="#b8c8d4"/>
<rect x="439.2" y="229.4" width="3.4" height="138.6" fill="#fff"/>
<rect x="414.2" y="236.0" width="21.3" height="1.7" fill="#a89070" opacity="0.8"/>
<rect x="413.3" y="239.0" width="21.0" height="1.7" fill="#c8a888" opacity="0.8"/>
<rect x="413.2" y="241.6" width="24.0" height="1.7" fill="#a89070" opacity="0.8"/>
<rect x="412.1" y="244.8" width="24.4" height="1.7" fill="#c09a80" opacity="0.8"/>
<rect x="412.2" y="247.8" width="23.4" height="1.7" fill="#a89070" opacity="0.8"/>
<rect x="414.3" y="251.0" width="23.0" height="1.7" fill="#a89070" opacity="0.8"/>
<rect x="412.2" y="253.6" width="24.5" height="1.7" fill="#d0b098" opacity="0.8"/>
<rect x="414.2" y="256.2" width="20.2" height="1.7" fill="#8a6a50" opacity="0.8"/>
<rect x="414.0" y="259.2" width="22.3" height="1.7" fill="#a89070" opacity="0.8"/>
<rect x="415.0" y="262.8" width="21.2" height="1.7" fill="#8a6a50" opacity="0.8"/>
<rect x="414.7" y="268.4" width="21.3" height="1.7" fill="#a07850" opacity="0.8"/>
<rect x="414.9" y="272.0" width="21.8" height="1.7" fill="#b89470" opacity="0.8"/>
<rect x="420.3" y="271.5" width="5.1" height="2" fill="#c04848" opacity="0.55"/>
<rect x="415.3" y="275.2" width="22.2" height="1.7" fill="#a89070" opacity="0.8"/>
<rect x="414.3" y="278.8" width="21.7" height="1.7" fill="#a07850" opacity="0.8"/>
<rect x="414.6" y="282.4" width="20.1" height="1.7" fill="#c8a888" opacity="0.8"/>
<rect x="414.9" y="285.0" width="22.9" height="1.7" fill="#a89070" opacity="0.8"/>
<rect x="413.8" y="288.2" width="22.6" height="1.7" fill="#d0b098" opacity="0.8"/>
<rect x="413.0" y="291.4" width="21.1" height="1.7" fill="#c09a80" opacity="0.8"/>
<rect x="414.2" y="296.4" width="23.1" height="1.7" fill="#a89070" opacity="0.8"/>
<rect x="414.6" y="300.0" width="21.4" height="1.7" fill="#b89470" opacity="0.8"/>
<rect x="413.8" y="303.0" width="23.7" height="1.7" fill="#a89070" opacity="0.8"/>
<rect x="415.6" y="305.6" width="21.4" height="1.7" fill="#a07850" opacity="0.8"/>
<rect x="412.2" y="308.6" width="22.9" height="1.7" fill="#a07850" opacity="0.8"/>
<rect x="412.9" y="311.2" width="24.4" height="1.7" fill="#d0b098" opacity="0.8"/>
<rect x="414.4" y="314.8" width="21.8" height="1.7" fill="#9a8a7a" opacity="0.8"/>
<rect x="415.7" y="318.0" width="21.3" height="1.7" fill="#c8a888" opacity="0.8"/>
<rect x="414.9" y="320.6" width="21.9" height="1.7" fill="#c09a80" opacity="0.8"/>
<rect x="414.8" y="323.8" width="21.2" height="1.7" fill="#8a6a50" opacity="0.8"/>
<rect x="413.7" y="326.8" width="24.8" height="1.7" fill="#8a6a50" opacity="0.8"/>
<rect x="420.4" y="326.3" width="5.7" height="2" fill="#c04848" opacity="0.55"/>
<rect x="412.4" y="329.4" width="23.6" height="1.7" fill="#a07850" opacity="0.8"/>
<rect x="413.8" y="332.4" width="23.1" height="1.7" fill="#8a6a50" opacity="0.8"/>
<rect x="413.9" y="335.4" width="21.3" height="1.7" fill="#d0b098" opacity="0.8"/>
<rect x="414.4" y="338.0" width="20.9" height="1.7" fill="#a07850" opacity="0.8"/>
<rect x="412.9" y="341.0" width="23.7" height="1.7" fill="#9a8a7a" opacity="0.8"/>
<rect x="415.4" y="344.2" width="20.1" height="1.7" fill="#c8a888" opacity="0.8"/>
<rect x="414.4" y="347.2" width="22.1" height="1.7" fill="#a89070" opacity="0.8"/>
<rect x="413.7" y="350.4" width="22.8" height="1.7" fill="#a07850" opacity="0.8"/>
<rect x="413.5" y="354.0" width="25.0" height="1.7" fill="#c09a80" opacity="0.8"/>
<rect x="414.4" y="356.6" width="21.2" height="1.7" fill="#c09a80" opacity="0.8"/>
<rect x="413.9" y="359.6" width="21.4" height="1.7" fill="#8a6a50" opacity="0.8"/>
<rect x="414.6" y="362.2" width="22.2" height="1.7" fill="#d0b098" opacity="0.8"/>
<rect x="415.1" y="365.4" width="20.0" height="1.7" fill="#9a8a7a" opacity="0.8"/>
<rect x="425.3" y="234" width="1" height="134" fill="#8a8a8a"/>
<rect x="444.3" y="228.5" width="32.5" height="36" fill="#9a9ea2"/>
<rect x="445.3" y="229.5" width="29" height="34" fill="url(#metal)"/>
<rect x="444.3" y="270" width="31" height="42" fill="#5c5c5c"/>
<circle cx="451.2" cy="279.5" r="7.2" fill="#f07818"/><path d="M451.2,279.5 L445.80,274.75 A7.2,7.2 0 0 1 456.60,274.75 Z" fill="#fcc48c"/><path d="M451.2,279.5 L445.80,284.25 A7.2,7.2 0 0 0 456.60,284.25 Z" fill="#fcc48c"/>
<circle cx="466.5" cy="279.5" r="5" fill="#f07818"/><path d="M466.5,279.5 L462.75,276.20 A5,5 0 0 1 470.25,276.20 Z" fill="#fcc48c"/><path d="M466.5,279.5 L462.75,282.80 A5,5 0 0 0 470.25,282.80 Z" fill="#fcc48c"/>
<circle cx="450.8" cy="301.3" r="6.4" fill="#f07818"/><path d="M450.8,301.3 L446.00,297.08 A6.4,6.4 0 0 1 455.60,297.08 Z" fill="#fcc48c"/><path d="M450.8,301.3 L446.00,305.52 A6.4,6.4 0 0 0 455.60,305.52 Z" fill="#fcc48c"/>
<circle cx="466.4" cy="301.3" r="4" fill="#f07818"/><path d="M466.4,301.3 L463.40,298.66 A4,4 0 0 1 469.40,298.66 Z" fill="#fcc48c"/><path d="M466.4,301.3 L463.40,303.94 A4,4 0 0 0 469.40,303.94 Z" fill="#fcc48c"/>
<path d="M444.3,312 L475,312 L475,334.6 L518.3,334.6 L518.3,369 L444.3,369 Z" fill="#c8f4f8"/>
<rect x="479" y="338.4" width="31.6" height="25" fill="url(#sinkp)"/>
<rect x="494.5" y="338.4" width="0.8" height="25" fill="#8a6a30" opacity="0.6"/>
<rect x="525" y="321" width="6" height="49" fill="#5a3010" opacity="0.35"/>
<rect x="474.6" y="312" width="1" height="23" fill="#8a9aa0" opacity="0.8"/>
<rect x="518.3" y="321.3" width="6.5" height="48.7" fill="#fff"/>
<rect x="524.5" y="320.3" width="1.5" height="49.7" fill="#888" opacity="0.5"/>
<path d="M547.6,175 L675,175 L661,197.5 L561,197.5 Z" fill="#fff"/>
<path d="M675,175 L678,175 L678,196 L663,196 Z" fill="#5a3418" opacity="0.55"/>
<path d="M552.5,175 L670,175 L659,194.5 L563,194.5 Z" fill="#9e5a2e"/>
<rect x="578.8" y="175" width="2.6" height="21" fill="#fff"/>
<rect x="640" y="175" width="2.6" height="21" fill="#fff"/>
<rect x="580" y="197.5" width="65" height="6.5" fill="#6a3412" opacity="0.45"/>
<rect x="640" y="197.5" width="5" height="6.5" fill="#4a2a10" opacity="0.4"/>
<rect x="603" y="243" width="3" height="41" fill="#6a3c1c" opacity="0.45"/>
<rect x="542.7" y="241.7" width="60.3" height="41.6" fill="#949c9a"/>
<path d="M563.1,249.7 L563.1,268.7 M587,249.7 L587,268.7 M556.3,257.7 L593.6,257.7 M556.3,265.8 L593.6,265.8" stroke="#7e9aa8" stroke-width="1.4"/>
<rect x="614.8" y="270" width="2.5" height="41" fill="#6a3c1c" opacity="0.35"/>
<rect x="553.8" y="268.7" width="61" height="41.7" fill="#96a09e"/>
<rect x="553.8" y="268.7" width="49.2" height="14.6" fill="#9cb6c2"/>
<path d="M567.2,283.3 L567.2,302.3 M600.1,283.3 L600.1,302.3 M557.7,286.2 L609.6,286.2 M557.7,294.3 L609.6,294.3" stroke="#7e9aa8" stroke-width="1.4"/>
<rect x="537.8" y="319.7" width="112" height="51.7" fill="#b9b9b9" filter="url(#noise2)"/>
<path d="M544.5,320 L544.5,366 M576.6,320 L576.6,352 M610.3,320 L610.3,352" stroke="#9a9a9a" stroke-width="0.7"/>
<path d="M545,366 L545,356 Q560.8,349.5 576.6,356 L576.6,366 Z" fill="#b4b4b4" stroke="#9a9a9a" stroke-width="1"/>
<path d="M576.6,366 L576.6,356 Q593.5,349.5 610.3,356 L610.3,366 Z" fill="#b4b4b4" stroke="#9a9a9a" stroke-width="1"/>
<path d="M610.3,366 L610.3,356 Q628.1,349.5 646,356 L646,366 Z" fill="#b4b4b4" stroke="#9a9a9a" stroke-width="1"/>
<path d="M538,367 L649.7,367" stroke="#a0a0a0" stroke-width="1"/>
<rect x="649.7" y="320" width="1.5" height="10" fill="#6a4020" opacity="0.4"/>
<rect x="650" y="329.8" width="27" height="34.7" fill="#86a2ac"/>
<rect x="650" y="329.8" width="27" height="8" fill="#98a4a6"/>
<circle cx="652.5" cy="332" r="1.1" fill="#fff"/>
<circle cx="675" cy="332" r="1.1" fill="#fff"/>
<circle cx="652.5" cy="362" r="1.1" fill="#fff"/>
<circle cx="675" cy="362" r="1.1" fill="#fff"/>
<path d="M79,95.6 L57.1,191.8" class="ld"/>
<circle cx="79" cy="95.6" r="2.1" fill="#0a0a0a"/>
<path d="M57.10,191.80 L56.63,183.49 L61.12,184.51 Z" fill="#0a0a0a"/>
<path d="M228.5,51.5 L147,206.6" class="ld"/>
<circle cx="228.5" cy="51.5" r="2.1" fill="#0a0a0a"/>
<path d="M147.00,206.60 L148.69,198.45 L152.76,200.59 Z" fill="#0a0a0a"/>
<path d="M191.3,133 L264.7,243.5" class="ld"/>
<circle cx="191.3" cy="133" r="2.1" fill="#0a0a0a"/>
<path d="M264.70,243.50 L258.36,238.11 L262.19,235.56 Z" fill="#0a0a0a"/>
<path d="M321.9,28.6 L317.8,205.8" class="ld"/>
<circle cx="321.9" cy="28.6" r="2.1" fill="#0a0a0a"/>
<path d="M317.80,205.80 L315.69,197.75 L320.28,197.86 Z" fill="#0a0a0a"/>
<path d="M339.9,66.3 L339.5,288" class="ld"/>
<circle cx="339.9" cy="66.3" r="2.1" fill="#0a0a0a"/>
<path d="M339.50,288.00 L337.21,280.00 L341.81,280.00 Z" fill="#0a0a0a"/>
<path d="M406.9,118.2 L407.3,190.9" class="ld"/>
<circle cx="406.9" cy="118.2" r="2.1" fill="#0a0a0a"/>
<path d="M407.30,190.90 L404.96,182.91 L409.56,182.89 Z" fill="#0a0a0a"/>
<path d="M448.5,103.4 L422.5,258.8" class="ld"/>
<circle cx="448.5" cy="103.4" r="2.1" fill="#0a0a0a"/>
<path d="M422.50,258.80 L421.55,250.53 L426.09,251.29 Z" fill="#0a0a0a"/>
<path d="M459.3,133.1 L459.5,243" class="ld"/>
<circle cx="459.3" cy="133.1" r="2.1" fill="#0a0a0a"/>
<path d="M459.50,243.00 L457.19,235.00 L461.79,235.00 Z" fill="#0a0a0a"/>
<path d="M519.1,67.3 L581.7,67.3 L570.7,258.1" class="ld"/>
<circle cx="519.1" cy="67.3" r="2.1" fill="#0a0a0a"/>
<path d="M570.70,258.10 L568.86,249.98 L573.46,250.25 Z" fill="#0a0a0a"/>
<path d="M683.9,41.2 L609.3,183.4" class="ld"/>
<circle cx="683.9" cy="41.2" r="2.1" fill="#0a0a0a"/>
<path d="M609.30,183.40 L610.98,175.25 L615.05,177.38 Z" fill="#0a0a0a"/>
<path d="M712.8,133.2 L712.3,245.2" class="ld"/>
<circle cx="712.8" cy="133.2" r="2.1" fill="#0a0a0a"/>
<path d="M712.30,245.20 L710.04,237.19 L714.64,237.21 Z" fill="#0a0a0a"/>
<path d="M112.8,408.7 L116.3,314" class="ld"/>
<circle cx="112.8" cy="408.7" r="2.1" fill="#0a0a0a"/>
<path d="M116.30,314.00 L118.30,322.08 L113.71,321.91 Z" fill="#0a0a0a"/>
<path d="M161,452.8 L213,350.5" class="ld"/>
<circle cx="161" cy="452.8" r="2.1" fill="#0a0a0a"/>
<path d="M213.00,350.50 L211.43,358.67 L207.32,356.59 Z" fill="#0a0a0a"/>
<path d="M258.5,423.5 L280.4,423.5 L302,351" class="ld"/>
<circle cx="258.5" cy="423.5" r="2.1" fill="#0a0a0a"/>
<path d="M302.00,351.00 L301.92,359.32 L297.51,358.01 Z" fill="#0a0a0a"/>
<path d="M392.1,394 L451.3,298.4" class="ld"/>
<circle cx="392.1" cy="394" r="2.1" fill="#0a0a0a"/>
<path d="M451.30,298.40 L449.04,306.41 L445.13,303.99 Z" fill="#0a0a0a"/>
<path d="M451.8,416.3 L496.1,350" class="ld"/>
<circle cx="451.8" cy="416.3" r="2.1" fill="#0a0a0a"/>
<path d="M496.10,350.00 L493.57,357.93 L489.74,355.37 Z" fill="#0a0a0a"/>
<path d="M631,438.7 L660.4,350.5" class="ld"/>
<circle cx="631" cy="438.7" r="2.1" fill="#0a0a0a"/>
<path d="M660.40,350.50 L660.05,358.82 L655.69,357.36 Z" fill="#0a0a0a"/>
<path d="M561.6,500.5 L563.5,335.6" class="ld"/>
<circle cx="561.6" cy="500.5" r="2.1" fill="#0a0a0a"/>
<path d="M563.50,335.60 L565.71,343.63 L561.11,343.57 Z" fill="#0a0a0a"/>
<path d="M280.6,118.2 L268,119 C263,119.5 262,122 262,130 C262,158 259,175 251.1,191.6" class="ld"/>
<circle cx="280.6" cy="118.2" r="2.1" fill="#0a0a0a"/>
<path d="M251.10,191.60 L252.31,183.36 L256.50,185.26 Z" fill="#0a0a0a"/>
<text x="84.2" y="98.9" textLength="51.7" lengthAdjust="spacing">Rear Door</text>
<text x="105.1" y="136.9" textLength="70.8" lengthAdjust="spacing">Washer Dryer</text>
<text x="232.8" y="55.3" textLength="58.2" lengthAdjust="spacing">Vinyl Plank</text>
<text x="325.9" y="32.5" textLength="87.5" lengthAdjust="spacing">Bamboo Flooring</text>
<text x="345.2" y="70.2" textLength="56.2" lengthAdjust="spacing">Queen Bed</text>
<text x="285.1" y="122.0" textLength="25.0" lengthAdjust="spacing">Door</text>
<text x="412.2" y="121.9" textLength="24.4" lengthAdjust="spacing">Door</text>
<text x="453.0" y="107.0" textLength="32.4" lengthAdjust="spacing">Closet</text>
<text x="464.1" y="136.7" textLength="32.6" lengthAdjust="spacing">Fridge</text>
<text x="483.2" y="58.9" textLength="69.2" lengthAdjust="spacing">Transforming</text>
<text x="483.2" y="70.5" textLength="28.3" lengthAdjust="spacing">Table</text>
<text x="595.0" y="39.1" textLength="74.2" lengthAdjust="spacing">Entertainment</text>
<text x="595.0" y="50.8" textLength="34.2" lengthAdjust="spacing">Center</text>
<text x="717.1" y="130.9" textLength="27.2" lengthAdjust="spacing">Front</text>
<text x="717.1" y="142.7" textLength="25.1" lengthAdjust="spacing">Door</text>
<text x="35.6" y="412.0" textLength="63.5" lengthAdjust="spacing">Shower Tub</text>
<text x="70.2" y="455.8" textLength="76.3" lengthAdjust="spacing">Privacy Screen</text>
<text x="200.2" y="426.7" textLength="51.7" lengthAdjust="spacing">End Table</text>
<text x="347.8" y="398.0" textLength="30.0" lengthAdjust="spacing">Stove</text>
<text x="375.0" y="419.9" textLength="63.4" lengthAdjust="spacing">Double Sink</text>
<text x="564.9" y="442.1" textLength="52.0" lengthAdjust="spacing">End Table</text>
<text x="507.1" y="498.0" textLength="44.3" lengthAdjust="spacing">Fold Out</text>
<text x="507.1" y="509.9" textLength="32.4" lengthAdjust="spacing">Couch</text>
</svg>
</body></html>
